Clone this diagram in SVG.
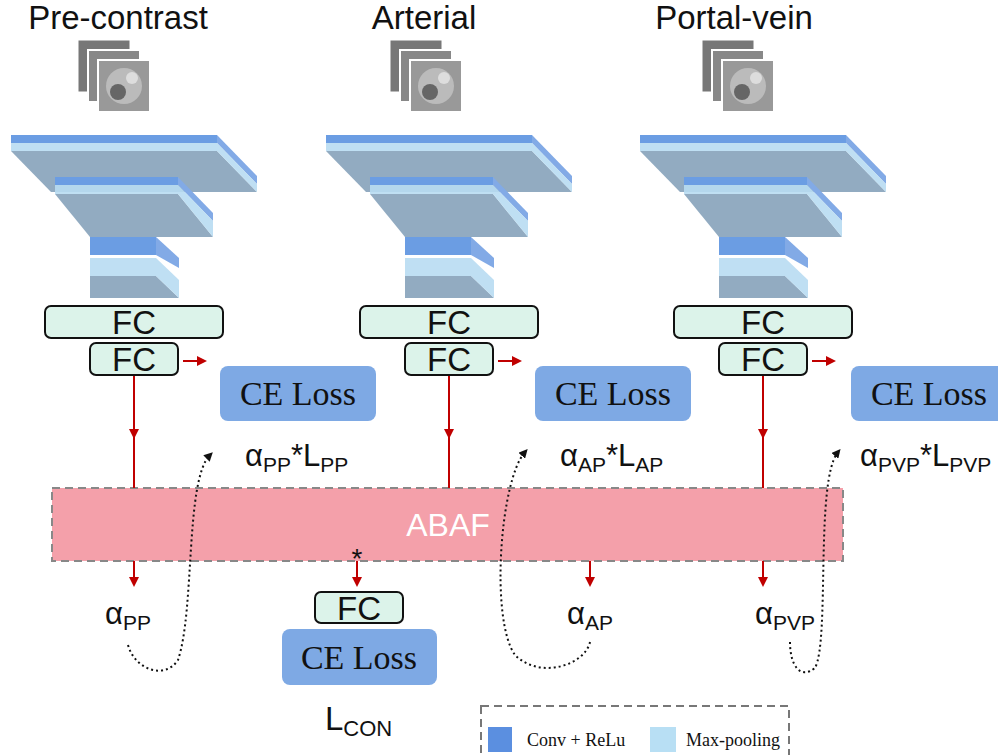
<svg xmlns="http://www.w3.org/2000/svg" width="998" height="755" viewBox="0 0 998 755">
<style>
.t{font-family:"Liberation Sans",Arial,sans-serif;fill:#111}
.s{font-family:"Liberation Serif","Times New Roman",serif;fill:#111}
.conv{fill:#6b9de3}.convs{fill:#82aae6}
.pool{fill:#b8dcf2;opacity:.9}.gray{fill:#86a2ba;opacity:.9}
.fc{fill:#dcf3ea;stroke:#111;stroke-width:2}
.ce{fill:#7ea9e4}
.red{stroke:#c00000;stroke-width:2;fill:none}
.dot{stroke:#111;stroke-width:2;fill:none;stroke-dasharray:2 3}
</style>
<defs>
<marker id="ar" markerWidth="10" markerHeight="10" refX="5" refY="5" orient="auto" markerUnits="userSpaceOnUse"><path d="M0,0L10,5L0,10z" fill="#c00000"/></marker>
<marker id="ak" markerWidth="9" markerHeight="9" refX="5" refY="4.5" orient="auto" markerUnits="userSpaceOnUse"><path d="M0,0L9,4.5L0,9z" fill="#111"/></marker>
<g id="thumb">
<rect x="0" y="0" width="52" height="52" fill="#777" stroke="#fff"/>
<rect x="10" y="10" width="52" height="52" fill="#888" stroke="#fff" stroke-width="2"/>
<rect x="20" y="20" width="52" height="52" fill="#999" stroke="#fff" stroke-width="2"/>
<circle cx="46" cy="46" r="18" fill="#bbb"/><circle cx="40" cy="52" r="8" fill="#666"/><circle cx="54" cy="38" r="6" fill="#ddd"/>
</g>
<g id="pyr">
<polygon class="gray" points="11,151 217,151 257,192 51,192"/>
<rect class="conv" x="11" y="135" width="206" height="8"/>
<polygon class="convs" points="217,135 257,176 257,184 217,143"/>
<rect class="pool" x="11" y="143" width="206" height="8"/>
<polygon class="pool" points="217,143 257,184 257,192 217,151"/>
<polygon class="gray" points="55,194 178,194 213,237 90,237"/>
<rect class="conv" x="55" y="177" width="123" height="8"/>
<polygon class="convs" points="178,177 213,213 213,221 178,185"/>
<rect class="pool" x="55" y="185" width="123" height="9"/>
<polygon class="pool" points="178,185 213,221 213,237 178,194"/>
<polygon class="gray" points="90,276 156,276 179,298 90,298"/>
<rect class="conv" x="90" y="237" width="66" height="18"/>
<polygon class="convs" points="156,237 179,258 179,268 156,255"/>
<rect class="pool" x="90" y="258" width="66" height="18"/>
<polygon class="pool" points="156,258 179,280 179,298 156,276"/>
</g>
</defs>
<rect width="998" height="755" fill="#fff"/>
<g id="branch-pp">
<text class="t" x="118" y="29" font-size="33" text-anchor="middle">Pre-contrast</text>
<use href="#thumb" x="78" y="40"/>
<use href="#pyr"/>
<rect class="fc" x="45" y="306" width="178" height="32" rx="6"/><text class="t" x="134" y="334" font-size="33" text-anchor="middle">FC</text>
<rect class="fc" x="90" y="343" width="88" height="32" rx="6"/><text class="t" x="134" y="371" font-size="33" text-anchor="middle">FC</text>
<rect class="ce" x="220" y="366" width="156" height="55" rx="8"/><text class="s" x="298" y="405" font-size="34" text-anchor="middle">CE Loss</text>
<text class="t" x="245" y="466" font-size="31">α<tspan font-size="21" dy="6">PP</tspan><tspan dy="-6">*L</tspan><tspan font-size="21" dy="6">PP</tspan></text>
</g>
<g id="branch-ap">
<text class="t" x="424" y="29" font-size="33" text-anchor="middle">Arterial</text>
<use href="#thumb" x="390" y="40"/>
<use href="#pyr" x="315"/>
<rect class="fc" x="360" y="306" width="178" height="32" rx="6"/><text class="t" x="449" y="334" font-size="33" text-anchor="middle">FC</text>
<rect class="fc" x="405" y="343" width="88" height="32" rx="6"/><text class="t" x="449" y="371" font-size="33" text-anchor="middle">FC</text>
<rect class="ce" x="535" y="366" width="156" height="55" rx="8"/><text class="s" x="613" y="405" font-size="34" text-anchor="middle">CE Loss</text>
<text class="t" x="560" y="466" font-size="31">α<tspan font-size="21" dy="6">AP</tspan><tspan dy="-6">*L</tspan><tspan font-size="21" dy="6">AP</tspan></text>
</g>
<g id="branch-pvp">
<text class="t" x="734" y="29" font-size="33" text-anchor="middle">Portal-vein</text>
<use href="#thumb" x="702" y="40"/>
<use href="#pyr" x="629"/>
<rect class="fc" x="674" y="306" width="178" height="32" rx="6"/><text class="t" x="763" y="334" font-size="33" text-anchor="middle">FC</text>
<rect class="fc" x="719" y="343" width="88" height="32" rx="6"/><text class="t" x="763" y="371" font-size="33" text-anchor="middle">FC</text>
<rect class="ce" x="851" y="366" width="156" height="55" rx="8"/><text class="s" x="929" y="405" font-size="34" text-anchor="middle">CE Loss</text>
<text class="t" x="860" y="466" font-size="31">α<tspan font-size="21" dy="6">PVP</tspan><tspan dy="-6">*L</tspan><tspan font-size="21" dy="6">PVP</tspan></text>
</g>
<g id="abaf">
<rect x="52" y="488" width="791" height="73" fill="#f4a0aa" stroke="#888" stroke-width="2" stroke-dasharray="8 5"/>
<text x="448" y="536" font-size="32" text-anchor="middle" fill="#fff" font-family="Liberation Sans,Arial,sans-serif">ABAF</text>
</g>
<g id="fusion">
<text class="t" x="357" y="568" font-size="28" text-anchor="middle">*</text>
<rect class="fc" x="315" y="592" width="88" height="31" rx="6"/><text class="t" x="359" y="620" font-size="33" text-anchor="middle">FC</text>
<rect class="ce" x="282" y="629" width="155" height="56" rx="8"/><text class="s" x="359" y="669" font-size="34" text-anchor="middle">CE Loss</text>
<text class="t" x="325" y="730" font-size="33">L<tspan font-size="22" dy="6">CON</tspan></text>
</g>
<g id="alphas">
<text class="t" x="105" y="624" font-size="31">α<tspan font-size="21" dy="6">PP</tspan></text>
<text class="t" x="567" y="624" font-size="31">α<tspan font-size="21" dy="6">AP</tspan></text>
<text class="t" x="755" y="624" font-size="31">α<tspan font-size="21" dy="6">PVP</tspan></text>
</g>
<g id="connectors">
<path class="red" d="M183,361H202" marker-end="url(#ar)"/>
<path class="red" d="M498,361H517" marker-end="url(#ar)"/>
<path class="red" d="M812,361H831" marker-end="url(#ar)"/>
<path class="red" d="M134,376V434" marker-end="url(#ar)"/><path class="red" d="M134,436V488"/>
<path class="red" d="M449,376V434" marker-end="url(#ar)"/><path class="red" d="M449,436V488"/>
<path class="red" d="M763,376V434" marker-end="url(#ar)"/><path class="red" d="M763,436V488"/>
<path class="red" d="M134,561V582" marker-end="url(#ar)"/>
<path class="red" d="M357,561V582" marker-end="url(#ar)"/>
<path class="red" d="M590,561V582" marker-end="url(#ar)"/>
<path class="red" d="M763,561V582" marker-end="url(#ar)"/>
<path class="dot" d="M128,645C135,670 165,680 178,660C195,610 185,480 210,455" marker-end="url(#ak)"/>
<path class="dot" d="M590,642C585,665 540,680 515,655C490,620 500,480 525,452" marker-end="url(#ak)"/>
<path class="dot" d="M790,642C790,665 800,680 815,668C830,640 815,480 838,452" marker-end="url(#ak)"/>
</g>
<g id="legend">
<rect x="481" y="706" width="308" height="60" fill="none" stroke="#777" stroke-width="2" stroke-dasharray="8 5"/>
<rect x="488" y="727" width="24" height="25" fill="#5b8fe0"/>
<text class="s" x="527" y="746" font-size="18">Conv +  ReLu</text>
<rect x="650" y="727" width="26" height="25" fill="#b8dff4"/>
<text class="s" x="686" y="746" font-size="18">Max-pooling</text>
</g>
</svg>
